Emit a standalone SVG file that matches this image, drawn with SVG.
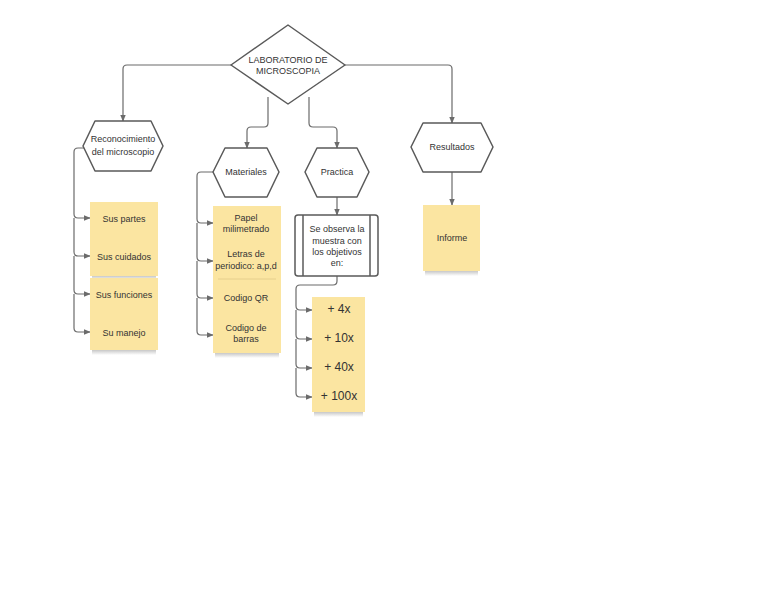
<svg xmlns="http://www.w3.org/2000/svg" width="768" height="594" viewBox="0 0 768 594">
<style>
.shape{fill:#ffffff;stroke:#5a5a5a;stroke-width:1.5;stroke-linejoin:round}
.conn{fill:none;stroke:#6b6b6b;stroke-width:1.2}
.arr{marker-end:url(#ah)}
.note{fill:#fbe5a1}
.sep{stroke:#e6cf8c;stroke-width:1}
text{font-family:"Liberation Sans",Arial,sans-serif;font-size:9px;fill:#333333;text-anchor:middle;dominant-baseline:central}
.big{font-size:12px}
</style>
<defs>
<marker id="ah" viewBox="0 0 10 10" refX="9" refY="5" markerWidth="7" markerHeight="7" markerUnits="userSpaceOnUse" orient="auto">
<path d="M0,1 L10,5 L0,9 Z" fill="#6b6b6b"/>
</marker>
<linearGradient id="sh" x1="0" y1="0" x2="0" y2="1">
<stop offset="0" stop-color="#9a9a9a" stop-opacity="0.55"/>
<stop offset="1" stop-color="#9a9a9a" stop-opacity="0"/>
</linearGradient>
</defs>
<rect width="768" height="594" fill="#ffffff"/>

<g id="connectors">
<path class="conn arr" d="M231 65 H127 Q123 65 123 69 V121"/>
<path class="conn arr" d="M268 97 V123 Q268 127 264 127 H251 Q247 127 247 131 V148"/>
<path class="conn arr" d="M309 97 V123 Q309 127 313 127 H333 Q337 127 337 131 V148"/>
<path class="conn arr" d="M345 65 H448 Q452 65 452 69 V123"/>
<path class="conn arr" d="M452 172 V205"/>
<path class="conn arr" d="M337 197 V215"/>
<path class="conn arr" d="M86 148 H78 Q74 148 74 152 V214 Q74 218 78 218 H90"/>
<path class="conn arr" d="M74 218 V252 Q74 256 78 256 H90"/>
<path class="conn arr" d="M74 256 V290 Q74 294 78 294 H90"/>
<path class="conn arr" d="M74 294 V328 Q74 332 78 332 H90"/>
<path class="conn arr" d="M215 172 H201 Q197 172 197 176 V219 Q197 223 201 223 H213"/>
<path class="conn arr" d="M197 223 V257 Q197 261 201 261 H213"/>
<path class="conn arr" d="M197 261 V294 Q197 298 201 298 H213"/>
<path class="conn arr" d="M197 298 V331 Q197 335 201 335 H213"/>
<path class="conn arr" d="M337 276 V281 Q337 285 333 285 H300 Q296 285 296 289 V306 Q296 310 300 310 H312"/>
<path class="conn arr" d="M296 310 V335 Q296 339 300 339 H312"/>
<path class="conn arr" d="M296 339 V364 Q296 368 300 368 H312"/>
<path class="conn arr" d="M296 368 V393 Q296 397 300 397 H312"/>
</g>

<g id="root">
<path class="shape" d="M288 25 L345 65 L288 104 L231 65 Z"/>
<text x="288" y="60">LABORATORIO DE</text>
<text x="288" y="71">MICROSCOPIA</text>
</g>

<g id="reconocimiento">
<path class="shape" d="M95 121 H151 L163 146 L151 171 H95 L83 146 Z"/>
<text x="123" y="139">Reconocimiento</text>
<text x="123" y="152">del microscopio</text>
</g>

<g id="materiales">
<path class="shape" d="M225 148 H267 L279 172 L267 197 H225 L213 172 Z"/>
<text x="246" y="172">Materiales</text>
</g>

<g id="practica">
<path class="shape" d="M317 148 H357 L369 172 L357 197 H317 L305 172 Z"/>
<text x="337" y="172">Practica</text>
</g>

<g id="resultados">
<path class="shape" d="M423 123 H481 L493 147 L481 172 H423 L411 147 Z"/>
<text x="452" y="147">Resultados</text>
</g>

<g id="observa">
<rect class="shape" x="295" y="215" width="83" height="61" rx="3"/>
<line x1="303" y1="215" x2="303" y2="276" stroke="#5a5a5a" stroke-width="1.5"/>
<line x1="370" y1="215" x2="370" y2="276" stroke="#5a5a5a" stroke-width="1.5"/>
<text x="337" y="229">Se observa la</text>
<text x="337" y="241">muestra con</text>
<text x="337" y="252">los objetivos</text>
<text x="337" y="263">en:</text>
</g>

<g id="notes-reconocimiento">
<rect x="92" y="350" width="64" height="5" fill="url(#sh)"/>
<rect x="92" y="276" width="64" height="4" fill="url(#sh)"/>
<rect class="note" x="90" y="202" width="68" height="74"/>
<rect class="note" x="90" y="278" width="68" height="72"/>
<text x="124" y="219">Sus partes</text>
<text x="124" y="257">Sus cuidados</text>
<text x="124" y="295">Sus funciones</text>
<text x="124" y="333">Su manejo</text>
</g>

<g id="notes-materiales">
<rect x="215" y="353" width="64" height="5" fill="url(#sh)"/>
<rect class="note" x="213" y="206" width="68" height="147"/>
<line class="sep" x1="218" y1="279" x2="276" y2="279"/>
<text x="246" y="218">Papel</text>
<text x="246" y="229">milimetrado</text>
<text x="246" y="254">Letras de</text>
<text x="246" y="266">periodico: a,p,d</text>
<text x="246" y="298">Codigo QR</text>
<text x="246" y="328">Codigo de</text>
<text x="246" y="339">barras</text>
</g>

<g id="notes-objetivos">
<rect x="314" y="412" width="49" height="5" fill="url(#sh)"/>
<rect class="note" x="312" y="297" width="53" height="115"/>
<text class="big" x="339" y="309">+ 4x</text>
<text class="big" x="339" y="338">+ 10x</text>
<text class="big" x="339" y="367">+ 40x</text>
<text class="big" x="339" y="396">+ 100x</text>
</g>

<g id="informe">
<rect x="425" y="271" width="53" height="5" fill="url(#sh)"/>
<rect class="note" x="423" y="205" width="57" height="66"/>
<text x="452" y="238">Informe</text>
</g>
</svg>
